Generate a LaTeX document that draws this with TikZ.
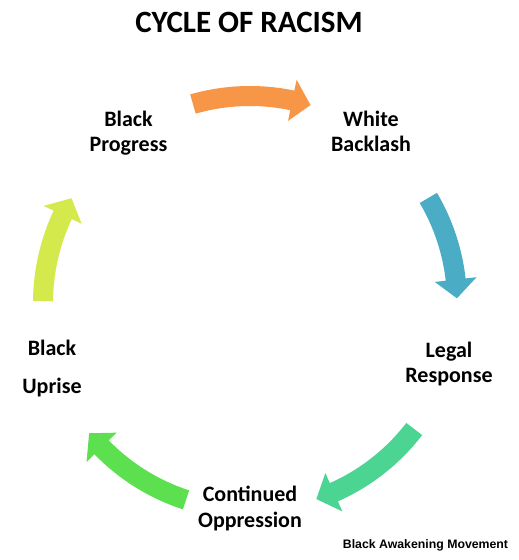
\documentclass[tikz,border=0pt]{standalone}
\usepackage{fontspec}
\setmainfont{Carlito}
\newfontfamily\footfont{Liberation Sans}
\definecolor{corange}{RGB}{247,150,70}
\definecolor{cblue}{RGB}{75,172,198}
\definecolor{cteal}{RGB}{76,212,146}
\definecolor{cgreen}{RGB}{92,224,80}
\definecolor{cyellow}{RGB}{212,234,76}
\newcommand\cyclearrow[3]{%
  \pgfmathsetmacro\hb{#3+5.2}%
  \fill[#1] (#2:217) arc[start angle=#2, end angle=\hb, radius=217]
    -- (\hb:228) -- (#3:207) -- (\hb:186) -- (\hb:197)
    arc[start angle=\hb, end angle=#2, radius=197] -- cycle;}
\begin{document}
\begin{tikzpicture}[x=1pt,y=1pt,
  lbl/.style={font=\bfseries\fontsize{22}{25.5}\selectfont, align=center, anchor=base, inner sep=0pt},
  ttl/.style={font=\bfseries\fontsize{31}{36}\selectfont, anchor=base, inner sep=0pt},
  foot/.style={font=\footfont\bfseries\fontsize{12.3}{14}\selectfont, anchor=base west, inner sep=0pt}]
\useasboundingbox (0,0) rectangle (519,560);
\fill[white] (0,0) rectangle (519,560);
\coordinate (c) at (250,257);
\begin{scope}[shift={(c)}]
  \cyclearrow{corange}{106}{73}
  \cyclearrow{cblue}{30.5}{1.3}
  \cyclearrow{cteal}{-37.5}{-71.3}
  \cyclearrow{cgreen}{-108}{-141}
  \cyclearrow{cyellow}{179.5}{149.6}
\end{scope}
\node[ttl] (title) at (249,527) {CYCLE OF RACISM};
\node[lbl] (bp) at (128.5,408.3) {Black\\Progress};
\node[lbl] (wb) at (371,408.3) {White\\Backlash};
\node[lbl] (lr) at (449,177.3) {Legal\\Response};
\node[lbl] (co) at (250,32.7) {Continued\\Oppression};
\node[lbl, font=\bfseries\fontsize{22}{38}\selectfont] (bu) at (52,166.7) {Black\\Uprise};
\node[foot] (ft) at (342.7,11) {Black Awakening Movement};
\end{tikzpicture}
\end{document}
